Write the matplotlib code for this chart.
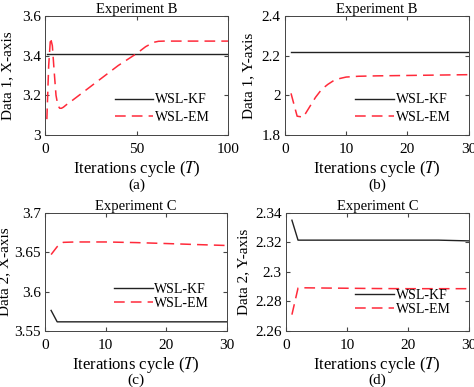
import numpy as np
import matplotlib
matplotlib.use('Agg')
import matplotlib.pyplot as plt

plt.rcParams['font.family'] = ['Liberation Serif', 'DejaVu Serif']
plt.rcParams['mathtext.fontset'] = 'stix'

# panel (a): Experiment B, data 1 X-axis
xa = [1, 2, 3, 4, 5, 6, 7, 8, 9, 10, 12, 15, 20, 25, 30, 35, 40, 45, 50, 55, 58, 60, 62, 65, 70, 80, 90, 100]
kf_a = [3.41] * len(xa)
em_a = [3.08, 3.35, 3.49, 3.45, 3.32, 3.2, 3.15, 3.135, 3.135, 3.14, 3.155, 3.175, 3.21, 3.245, 3.28, 3.315, 3.35, 3.38, 3.41, 3.445, 3.46, 3.468, 3.472, 3.473, 3.473, 3.473, 3.473, 3.473]

# panel (b): Experiment B, data 1 Y-axis
xb = [1, 2, 3, 4, 5, 6, 7, 8, 9, 10, 12, 15, 20, 25, 30]
kf_b = [2.218] * len(xb)
em_b = [2.01, 1.895, 1.89, 1.94, 1.99, 2.03, 2.055, 2.075, 2.085, 2.092, 2.096, 2.098, 2.1, 2.102, 2.104]

# panel (c): Experiment C, data 2 X-axis
xc = [1, 2, 3, 5, 10, 15, 20, 25, 30]
kf_c = [3.576, 3.5615, 3.5615, 3.5615, 3.5615, 3.5615, 3.5615, 3.5615, 3.5615]
em_c = [3.647, 3.657, 3.6625, 3.663, 3.663, 3.6622, 3.661, 3.6597, 3.6585]

# panel (d): Experiment C, data 2 Y-axis
xd = [1, 2, 3, 5, 10, 15, 20, 25, 30]
kf_d = [2.335, 2.3215, 2.3215, 2.3215, 2.3215, 2.3215, 2.3215, 2.3215, 2.321]
em_d = [2.271, 2.289, 2.2892, 2.2891, 2.2889, 2.2887, 2.2886, 2.2886, 2.2886]

panels = [
    dict(x=xa, kf=kf_a, em=em_a, title='Experiment B', ylabel='Data 1, X-axis', cap='(a)',
         xlim=(0, 100), xt=[0, 50, 100], ylim=(3, 3.6), yt=[3, 3.2, 3.4, 3.6],
         ytl=['3', '3.2', '3.4', '3.6'], pos=[0.095, 0.651, 0.386, 0.308], ylx=-0.17,
         leg=(0.90, 0.09), ls=0.35),
    dict(x=xb, kf=kf_b, em=em_b, title='Experiment B', ylabel='Data 1, Y-axis', cap='(b)',
         xlim=(0, 30), xt=[0, 10, 20, 30], ylim=(1.8, 2.4), yt=[1.8, 2.0, 2.2, 2.4],
         ytl=['1.8', '2', '2.2', '2.4'], pos=[0.601, 0.651, 0.388, 0.308], ylx=-0.163,
         leg=(0.90, 0.09), ls=0.35),
    dict(x=xc, kf=kf_c, em=em_c, title='Experiment C', ylabel='Data 2, X-axis', cap='(c)',
         xlim=(0, 30), xt=[0, 10, 20, 30], ylim=(3.55, 3.7), yt=[3.55, 3.6, 3.65, 3.7],
         ytl=['3.55', '3.6', '3.65', '3.7'], pos=[0.095, 0.145, 0.384, 0.305], ylx=-0.187,
         leg=(0.90, 0.18), ls=0.05),
    dict(x=xd, kf=kf_d, em=em_d, title='Experiment C', ylabel='Data 2, Y-axis', cap='(d)',
         xlim=(0, 30), xt=[0, 10, 20, 30], ylim=(2.26, 2.34), yt=[2.26, 2.28, 2.3, 2.32, 2.34],
         ytl=['2.26', '2.28', '2.3', '2.32', '2.34'], pos=[0.603, 0.145, 0.386, 0.305], ylx=-0.197,
         leg=(0.90, 0.13), ls=0.05),
]

fig = plt.figure(figsize=(4.74, 3.87), dpi=100)

for p in panels:
    ax = fig.add_axes(p['pos'])
    ax.plot(p['x'], p['kf'], color='#222222', lw=1.0, label='WSL-KF')
    ax.plot(p['x'], p['em'], color='#ff2a3a', lw=1.1, dashes=(7, 4), label='WSL-EM')
    ax.set_xlim(*p['xlim'])
    ax.set_ylim(*p['ylim'])
    ax.set_xticks(p['xt'])
    ax.set_yticks(p['yt'])
    ax.set_yticklabels(p['ytl'])
    ax.tick_params(direction='in', top=True, right=True, labelsize=11, length=3,
                   color='#444444')
    ax.tick_params(axis='x', pad=6)
    ax.tick_params(axis='y', pad=3)
    for s in ax.spines.values():
        s.set_color('#444444')
        s.set_linewidth(0.7)
    ax.set_title(p['title'], fontsize=10.5, pad=2)
    ax.set_ylabel(p['ylabel'], fontsize=11)
    ax.yaxis.set_label_coords(p['ylx'], 0.5)
    ax.set_xlabel('Iterations cycle ($\\mathit{T}$)', fontsize=12, labelpad=2)
    ax.text(0.5, -0.42, p['cap'], transform=ax.transAxes, ha='center', va='center', fontsize=11)
    ax.legend(loc='lower right', bbox_to_anchor=p['leg'], frameon=False, fontsize=10,
              handlelength=2.8, handletextpad=0.1, borderpad=0, borderaxespad=0,
              labelspacing=p['ls'])

fig.savefig('out.png', dpi=100)
